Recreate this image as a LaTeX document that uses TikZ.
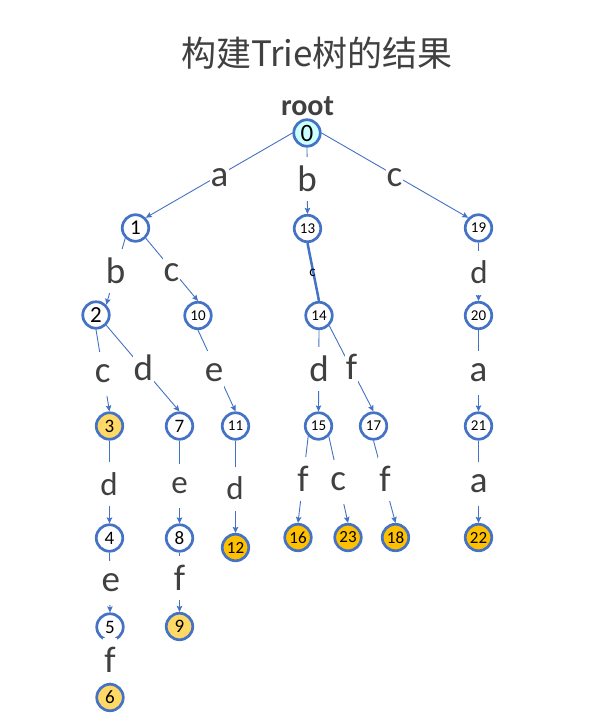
\documentclass[tikz,border=0pt]{standalone}
\usepackage{fontspec}
\setmainfont{Carlito}
\newfontfamily\cjkfont{Noto Sans CJK SC}
\usetikzlibrary{arrows.meta}
\definecolor{lineblue}{HTML}{4472C4}
\definecolor{txtgray}{HTML}{404040}
\definecolor{rootfill}{HTML}{CCFFFF}
\definecolor{lightyel}{HTML}{FFD966}
\definecolor{orangefill}{HTML}{FFC000}
\begin{document}
\begin{tikzpicture}[x=1pt,y=-1pt,
  tnode/.style={circle,draw=lineblue,line width=2.7pt,minimum size=26.5pt,inner sep=0pt,fill=white,text=black},
  dA/.style={font=\fontsize{25}{25}\selectfont},
  dB/.style={font=\fontsize{21}{21}\selectfont},
  dC/.style={font=\fontsize{23}{23}\selectfont},
  dM/.style={font=\fontsize{19}{19}\selectfont},
  dS/.style={font=\fontsize{15}{15}\selectfont},
  dO/.style={font=\fontsize{17}{17}\selectfont},
  yel/.style={fill=lightyel},
  org/.style={fill=orangefill},
  lbl/.style={fill=white,inner xsep=1pt,inner ysep=0pt,minimum height=44pt,text=txtgray,font=\fontsize{37}{37}\selectfont},
  lbls/.style={lbl,font=\fontsize{33}{33}\selectfont},
  edge/.style={draw=lineblue,line width=0.9pt,-{Stealth[length=6pt,width=5.5pt,inset=1pt]}}
]
\useasboundingbox (0,0) rectangle (593,721);
\fill[white] (0,0) rectangle (593,721);

% title
\node[font=\cjkfont\fontsize{35}{35}\selectfont,text=txtgray,anchor=base,inner sep=0pt] (title) at (317,66) {构建Trie树的结果};
\node[font=\bfseries\fontsize{30}{30}\selectfont,text=txtgray,anchor=base,inner sep=0pt] (rootlbl) at (307.5,115) {root};

% nodes
\node[tnode,dA,fill=rootfill] (n0) at (307,133) {0};
\node[tnode,dB] (n1) at (135.5,228) {1};
\node[tnode,dS] (n13) at (307.5,228.5) {13};
\node[tnode,dS] (n19) at (478.5,228) {19};
\node[tnode,dC] (n2) at (96,315) {2};
\node[tnode,dS] (n10) at (198,315.5) {10};
\node[tnode,dS] (n14) at (319,315.5) {14};
\node[tnode,dS] (n20) at (478.5,315.5) {20};
\node[tnode,dM,yel] (n3) at (109.5,426) {3};
\node[tnode,dM] (n7) at (179.5,426) {7};
\node[tnode,dS] (n11) at (235.5,426) {11};
\node[tnode,dS] (n15) at (318.5,426) {15};
\node[tnode,dS] (n17) at (373.5,426) {17};
\node[tnode,dS] (n21) at (478.5,426) {21};
\node[tnode,dM] (n4) at (109.5,538) {4};
\node[tnode,dM] (n8) at (179.5,538) {8};
\node[tnode,dO,org] (n12) at (235.5,547.5) {12};
\node[tnode,dO,org] (n16) at (298,537.5) {16};
\node[tnode,dO,org] (n23) at (348,537.5) {23};
\node[tnode,dO,org] (n18) at (395.5,537.5) {18};
\node[tnode,dO,org] (n22) at (478.5,537.5) {22};
\node[tnode,dM] (n5) at (110,627) {5};
\node[tnode,dM,yel] (n9) at (179.5,626.5) {9};
\node[tnode,dM,yel] (n6) at (110,697.5) {6};

% edges
\draw[edge] (n0.west) -- (n1.north east);
\draw[edge] (n0.south) -- (n13.north);
\draw[edge] (n0.east) -- (n19.north west);
\draw[edge] (n1.south west) -- (n2.north east);
\draw[edge] (n1.south east) -- (n10.north);
\draw[lineblue,line width=2.5pt] (n13.south) -- (n14.north);
\draw[edge] (n19.south) -- (n20.north);
\draw[edge] (n2.south) -- (n3.north);
\draw[edge] (n2.south east) -- (n7.north);
\draw[edge] (n10.south) -- (n11.north);
\draw[edge] (n14.south) -- (n15.north);
\draw[edge] (n14.south east) -- (n17.north);
\draw[edge] (n20.south) -- (n21.north);
\draw[edge] (n3.south) -- (n4.north);
\draw[edge] (n7.south) -- (n8.north);
\draw[edge] (n11.south) -- (n12.north);
\draw[edge] (n15.south west) -- (n16.north);
\draw[edge] (n15.south east) -- (n23.north);
\draw[edge] (n17.south) -- (n18.north);
\draw[edge] (n21.south) -- (n22.north);
\draw[edge] (n4.south) -- (n5.north);
\draw[edge] (n8.south) -- (n9.north);
\draw[edge] (n5.south) -- (n6.north);

% edge labels
\node[lbl] (la) at (219.5,177.5) {a};
\node[lbl] (lb) at (307,179) {b};
\node[lbl] (lc) at (394.5,178) {c};
\node[lbl] (l12) at (115.5,270.5) {b};
\node[lbl] (l110) at (171.5,272.5) {c};
\node[text=black,inner sep=0pt,font=\fontsize{15}{15}\selectfont] (l1314) at (312.5,273) {c};
\node[lbls] (l1920) at (479,272.5) {d};
\node[lbl] (l23) at (102.7,373.5) {c};
\node[lbl] (l27) at (143.3,367.5) {d};
\node[lbl] (l1011) at (214,373) {e};
\node[lbl] (l1415) at (319,368.5) {d};
\node[lbl] (l1417) at (351.5,366.7) {f};
\node[lbl] (l2021) at (478.5,372.5) {a};
\node[lbls] (l34) at (109,483.8) {d};
\node[lbls] (l78) at (179.5,486) {e};
\node[lbls] (l1112) at (235,488.5) {d};
\node[lbl] (l1516) at (303,478.8) {f};
\node[lbl] (l1523) at (338.3,482) {c};
\node[lbl] (l1718) at (385,478.8) {f};
\node[lbl] (l2122) at (478.8,484) {a};
\node[lbl] (l45) at (110.8,583) {e};
\node[lbl] (l89) at (179.5,578) {f};
\node[lbl] (l56) at (110,660) {f};
\end{tikzpicture}
\end{document}
